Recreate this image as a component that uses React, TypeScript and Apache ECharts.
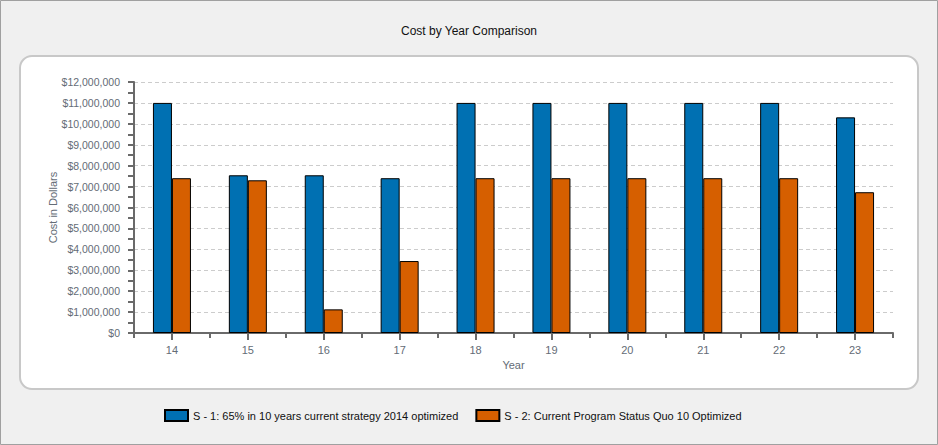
import React, { useEffect, useRef } from "react";
import * as echarts from "echarts";

const categories = ["14", "15", "16", "17", "18", "19", "20", "21", "22", "23"];
const series1Name = "S - 1: 65% in 10 years current strategy 2014 optimized";
const series2Name = "S - 2: Current Program Status Quo 10 Optimized";
const series1Values = [11000000, 7540000, 7540000, 7400000, 11000000, 11000000, 11000000, 11000000, 11000000, 10310000];
const series2Values = [7400000, 7300000, 1130000, 3440000, 7400000, 7400000, 7400000, 7400000, 7400000, 6730000];

const FONT = "'Liberation Sans', Arial, sans-serif";
const LABEL_COLOR = "#646c76";

function fmt(v: number) {
  return "$" + v.toLocaleString("en-US");
}

export default function App() {
  const ref = useRef<HTMLDivElement>(null);
  useEffect(() => {
    document.body.style.margin = "0";
    const chart = echarts.init(ref.current!, null, { renderer: "svg" });
    chart.setOption({
      animation: false,
      backgroundColor: "#f0f0f0",
      textStyle: { fontFamily: FONT },
      title: {
        text: "Cost by Year Comparison",
        left: "center",
        top: 20,
        textStyle: { fontSize: 12, fontWeight: "normal", color: "#111", fontFamily: FONT },
      },
      graphic: [
        {
          type: "rect",
          z: -10,
          silent: true,
          shape: { x: 0.5, y: 0.5, width: 937, height: 444 },
          style: { fill: "none", stroke: "#a0a0a0", lineWidth: 1 },
        },
        {
          type: "rect",
          z: -10,
          silent: true,
          shape: { x: 20, y: 56, width: 898, height: 333, r: 12 },
          style: { fill: "#ffffff", stroke: "#c8c8c8", lineWidth: 2 },
        },
      ],
      legend: {
        top: 404,
        left: 159,
        itemWidth: 23,
        itemHeight: 11,
        itemGap: 17,
        icon: "rect",
        textStyle: { fontSize: 11, color: "#111", fontFamily: FONT },
        data: [series1Name, series2Name],
      },
      grid: { left: 134, right: 45, top: 82, bottom: 112 },
      xAxis: [
        {
          type: "category",
          data: categories,
          name: "Year",
          nameLocation: "middle",
          nameGap: 23,
          nameTextStyle: { fontSize: 11, color: LABEL_COLOR, fontFamily: FONT },
          axisLine: { show: true, lineStyle: { color: "#6a6a6a", width: 2 } },
          axisTick: { show: true, alignWithLabel: true, length: 7, lineStyle: { color: "#6a6a6a", width: 2 } },
          axisLabel: { fontSize: 11, color: LABEL_COLOR, margin: 11, fontFamily: FONT },
          splitLine: { show: false },
        },
        {
          type: "category",
          data: categories,
          position: "bottom",
          axisLine: { show: false },
          axisTick: { show: true, alignWithLabel: false, length: 5, lineStyle: { color: "#6a6a6a", width: 2 } },
          axisLabel: { show: false },
          splitLine: { show: false },
        },
      ],
      yAxis: {
        type: "value",
        min: 0,
        max: 12000000,
        interval: 1000000,
        name: "Cost in Dollars",
        nameLocation: "middle",
        nameGap: 76,
        nameMoveOverlap: false,
        nameTextStyle: { fontSize: 11, color: LABEL_COLOR, fontFamily: FONT },
        axisLine: { show: true, lineStyle: { color: "#6a6a6a", width: 2 } },
        axisTick: { show: true, length: 6, lineStyle: { color: "#6a6a6a", width: 2 } },
        minorTick: { show: true, splitNumber: 2, length: 6, lineStyle: { color: "#6a6a6a", width: 2 } },
        axisLabel: { fontSize: 10.5, color: LABEL_COLOR, margin: 14, formatter: (v: number) => fmt(v), fontFamily: FONT },
        splitLine: { show: true, lineStyle: { color: "#cccccc", type: [4, 3], width: 1 } },
      },
      series: [
        {
          name: series1Name,
          type: "bar",
          data: series1Values,
          barWidth: 19,
          barGap: "0%",
          itemStyle: { color: "#0070b2", borderColor: "#000", borderWidth: 1 },
        },
        {
          name: series2Name,
          type: "bar",
          data: series2Values,
          barWidth: 19,
          barGap: "0%",
          itemStyle: { color: "#d65f00", borderColor: "#000", borderWidth: 1 },
        },
      ],
    });
    return () => chart.dispose();
  }, []);
  return <div ref={ref} style={{ width: 938, height: 445 }} />;
}
